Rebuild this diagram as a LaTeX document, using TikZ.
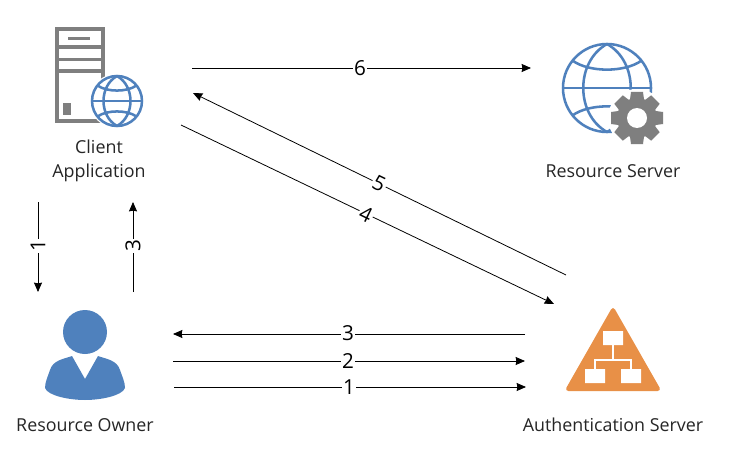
\documentclass[tikz,border=0pt]{standalone}
\usepackage{fontspec}
\setmainfont{Open Sans}
\usetikzlibrary{arrows.meta}
\definecolor{gblue}{HTML}{4F81BD}
\definecolor{ggrey}{HTML}{7F7F7F}
\definecolor{gorange}{HTML}{E89047}
\tikzset{
 lbl/.style={font=\fontsize{13.4}{18}\selectfont,align=center,text=black!85,inner sep=0pt},
 num/.style={font=\fontsize{15.5}{18}\selectfont,inner sep=1pt,fill=white,text=black},
 flow/.style={-{Stealth[length=7pt,width=6pt,inset=0.5pt]},line width=0.6pt,black},
 globeline/.style={draw=gblue,line width=#1},
 globeline/.default=1.9pt,
 srv/.style={draw=ggrey,line width=2.4pt}
}
\newcommand{\globeicon}[3]{%
 \begin{scope}[shift={(#1,#2)},x=#3*0.75pt,y=-#3*0.75pt]
 \fill[white] (0,0) circle (1.1);
 \draw[globeline] (0,0) circle (1);
 \draw[globeline] (0,-1) .. controls (-0.72,-0.6) and (-0.72,0.6) .. (0,1);
 \draw[globeline] (0,-1) .. controls (0.72,-0.6) and (0.72,0.6) .. (0,1);
 \draw[globeline] (-1,0) -- (1,0);
 \draw[globeline] (-0.78,-0.62) .. controls (-0.4,-0.35) and (0.4,-0.35) .. (0.78,-0.62);
 \draw[globeline] (-0.78,0.62) .. controls (-0.4,0.35) and (0.4,0.35) .. (0.78,0.62);
 \end{scope}}
\begin{document}
\begin{tikzpicture}[x=0.75pt,y=-0.75pt]
\useasboundingbox (0,0) rectangle (739,467);
\fill[white] (0,0) rectangle (739,467);
% client
\draw[srv] (57,29) rectangle (103,121);
\draw[srv] (57,47) -- (103,47) (57,59.5) -- (103,59.5) (57,71) -- (103,71);
\draw[srv] (68,38.5) -- (90,38.5);
\fill[ggrey] (63,103) rectangle (71,115);
\globeicon{117}{101}{25}
\node[lbl] (client) at (99,160.5) {Client\\Application};
% resource server
\globeicon{607}{88}{44}
\begin{scope}[shift={(637,118)}]
 \fill[white] (0,0) circle (29);
 \foreach \a in {0,45,...,315} {
  \fill[ggrey,rotate=\a] (-7.5,-15) -- (-6,-26) -- (6,-26) -- (7.5,-15) -- cycle;
 }
 \fill[ggrey] (0,0) circle (20);
 \fill[white] (0,0) circle (10);
\end{scope}
\node[lbl] (rs) at (613,171) {Resource Server};
% owner
\fill[gblue] (85,332) circle (22);
\fill[gblue] (72,356) -- (85,379) -- (98,356)
 .. controls (106,359) and (117,360) .. (120,370)
 .. controls (122,376) and (125,382) .. (125,388)
 .. controls (122,396) and (100,400) .. (85,400)
 .. controls (70,400) and (48,396) .. (45,388)
 .. controls (45,382) and (48,376) .. (50,370)
 .. controls (53,360) and (64,359) .. (72,356) -- cycle;
\node[lbl] (owner) at (85,425) {Resource Owner};
% auth
\fill[gorange,rounded corners=3pt] (613,306) -- (661.5,391) -- (564.5,391) -- cycle;
\fill[white] (603,331) rectangle (623,345) (585,369) rectangle (605,383) (621,369) rectangle (641,383);
\draw[white,line width=1.5pt] (613,345) -- (613,360) (595,369) -- (595,360) -- (631,360) -- (631,369);
\node[lbl] (auth) at (613,425) {Authentication Server};
% connector ends
\coordinate (a1) at (192,68); \coordinate (b1) at (531,68);
\coordinate (a2) at (566,275); \coordinate (b2) at (193,93);
\coordinate (a3) at (181,125); \coordinate (b3) at (554,304);
\coordinate (a4) at (38,202); \coordinate (b4) at (38,292);
\coordinate (a5) at (133,292); \coordinate (b5) at (133,202);
\coordinate (a6) at (525,334); \coordinate (b6) at (173,334);
\coordinate (a7) at (173,361); \coordinate (b7) at (525,361);
\coordinate (a8) at (174,387); \coordinate (b8) at (526,387);
\draw[flow] (a1) -- (b1);
\draw[flow] (a2) -- (b2);
\draw[flow] (a3) -- (b3);
\draw[flow] (a4) -- (b4);
\draw[flow] (a5) -- (b5);
\draw[flow] (a6) -- (b6);
\draw[flow] (a7) -- (b7);
\draw[flow] (a8) -- (b8);
\node[num] (n6) at (360,68) {6};
\node[num,rotate=-26] (n5) at (379,184) {5};
\node[num,rotate=-26] (n4) at (366,214) {4};
\node[num,rotate=90] (n1a) at (38,246) {1};
\node[num,rotate=90] (n3a) at (133,246) {3};
\node[num] (n3) at (348,333) {3};
\node[num] (n2) at (348,361) {2};
\node[num] (n1) at (349,387) {1};
\end{tikzpicture}
\end{document}
